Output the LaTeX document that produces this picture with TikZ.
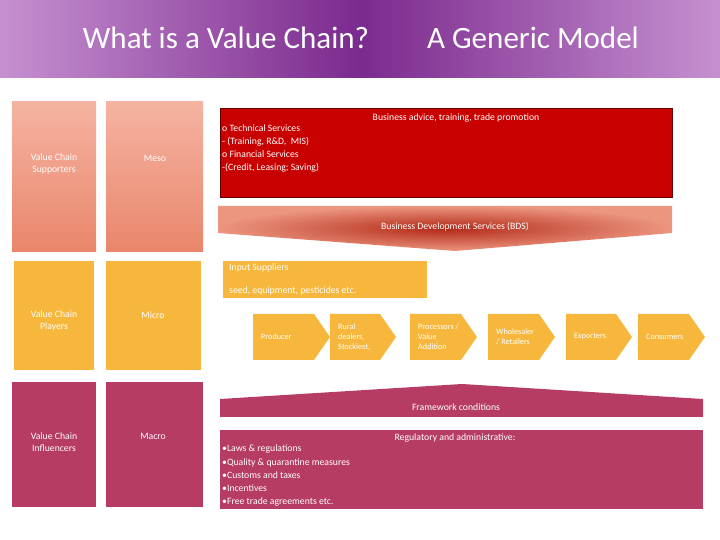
\documentclass[tikz,border=0pt]{standalone}
\usepackage{fontspec}
\setmainfont{Carlito}
\definecolor{hdrL}{HTML}{C690D0}
\definecolor{hdrD}{HTML}{7B2A8E}
\definecolor{salm}{HTML}{F5B3A2}
\definecolor{salmD}{HTML}{E9866B}
\definecolor{orng}{HTML}{F7B73D}
\definecolor{rose}{HTML}{B63C64}
\definecolor{redb}{HTML}{C80000}
\definecolor{bdsD}{HTML}{B22A18}
\definecolor{bdsL}{HTML}{EC957F}
\tikzset{
  px/.style={x=0.03cm,y=-0.03cm},
  lbl/.style={text=white,font=\fontsize{8.3}{10}\selectfont,align=center},
  lst/.style={text=white,font=\fontsize{8.3}{11}\selectfont,align=left,anchor=north west,inner sep=0pt},
  salbox/.style={top color=salm,bottom color=salmD},
}
\begin{document}
\begin{tikzpicture}[px]
\useasboundingbox (0,0) rectangle (720,540);
\fill[white] (0,0) rectangle (720,540);
% header
\shade[left color=hdrL,right color=hdrL,middle color=hdrD] (0,0) rectangle (720,78);
\node[text=white,font=\fontsize{26.5}{30}\selectfont] (t1) at (226,38) {What is a Value Chain?};
\node[text=white,font=\fontsize{26.5}{30}\selectfont] (t2) at (533,38) {A Generic Model};
% left columns
\shade[salbox] (12,102) rectangle (96,252);
\shade[salbox] (106,102) rectangle (203,252);
\fill[orng] (14,261) rectangle (94,370);
\fill[orng] (106,261) rectangle (201,370);
\fill[rose] (12,382) rectangle (96,507);
\fill[rose] (106,382) rectangle (203,507);
\node[lbl] (s1) at (54,164) {Value Chain\\Supporters};
\node[lbl] (s2) at (155,158) {Meso};
\node[lbl] (p1) at (54,321) {Value Chain\\Players};
\node[lbl] (p2) at (153,315) {Micro};
\node[lbl] (i1) at (54,442) {Value Chain\\Influencers};
\node[lbl] (i2) at (153,436) {Macro};
% red box
\fill[redb,draw=black!60!red] (220,108) rectangle (672,197);
\node[lbl] (ba) at (456,118) {Business advice, training, trade promotion};
\node[lst] (bl) at (222,125) {o Technical Services\\- (Training, R\&D,\ \ MIS)\\o Financial Services\\-(Credit, Leasing; Saving)};
% BDS
\shade[inner color=bdsD,outer color=bdsL] (218,206) -- (672,206) -- (672,233) -- (455,251) -- (218,233) -- cycle;
\node[lbl] (bds) at (455,227) {Business Development Services (BDS)};
% input suppliers
\fill[orng] (223,261) rectangle (427,298);
\node[lst] (is1) at (229,264) {Input Suppliers};
\node[lst] (is2) at (229,287) {seed, equipment, pesticides etc.};
% chevrons
\foreach \a/\b/\t/\n in {253/330/Producer/c1,330/396/{Rural\\dealers,\\Stockiest,}/c2,410/477/{Processors /\\Value\\Addition}/c3,488/555/{Wholesaler\\/ Retailers}/c4,566/632/Exporters/c5,638/705/Consumers/c6}{
  \fill[orng] (\a,314) -- ({\b-16},314) -- (\b,337) -- ({\b-16},360) -- (\a,360) -- cycle;
  \node[lst,anchor=west,font=\fontsize{7}{8.5}\selectfont] (\n) at ({\a+8},337) {\t};
}
% framework
\fill[rose] (220,399) -- (462,384) -- (703,399) -- (703,417) -- (220,417) -- cycle;
\node[lbl] (fw) at (456,407) {Framework conditions};
% regulatory
\fill[rose] (220,430) rectangle (703,509);
\node[lbl] (rg) at (455,438) {Regulatory and administrative:};
\node[lst,font=\fontsize{8.3}{11.2}\selectfont] (rl) at (222,445) {\textbullet Laws \& regulations\\\textbullet Quality \& quarantine measures\\\textbullet Customs and taxes\\\textbullet Incentives\\\textbullet Free trade agreements etc.};
\end{tikzpicture}
\end{document}
